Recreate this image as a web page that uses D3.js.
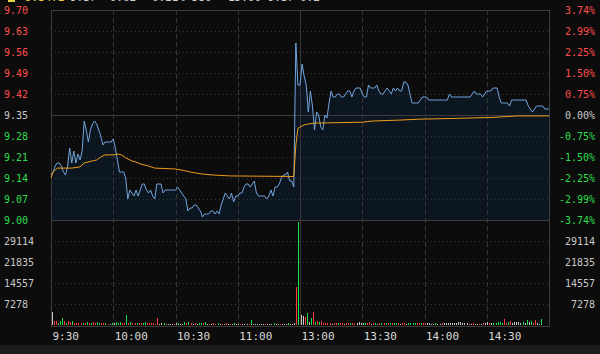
<!DOCTYPE html>
<html>
<head>
<meta charset="utf-8">
<script src="https://cdn.jsdelivr.net/npm/d3@7"></script>
<style>
body { margin: 0; background: #0c0c0c; }
svg { display: block; }
text { font-family: "DejaVu Sans Mono", monospace; }
</style>
</head>
<body>
<div class="viz"></div>
<script>
// minute prices, 9:30 .. 11:30 then 13:00 .. 15:00
const prices = [
    9.15, 9.16, 9.18, 9.19, 9.19, 9.18, 9.16, 9.15, 9.18, 9.24,
    9.19, 9.23, 9.19, 9.22, 9.20, 9.23, 9.33, 9.30, 9.26, 9.30,
    9.32, 9.33, 9.32, 9.30, 9.28, 9.25, 9.26, 9.26, 9.26, 9.26,
    9.27, 9.24, 9.20, 9.16, 9.16, 9.16, 9.14, 9.07, 9.10, 9.09,
    9.08, 9.10, 9.08, 9.10, 9.12, 9.12, 9.10, 9.09, 9.10, 9.08,
    9.07, 9.12, 9.12, 9.12, 9.09, 9.10, 9.10, 9.10, 9.10, 9.10,
    9.10, 9.11, 9.10, 9.09, 9.08, 9.07, 9.03, 9.04, 9.04, 9.05,
    9.05, 9.04, 9.03, 9.01, 9.02, 9.02, 9.02, 9.03, 9.03, 9.02,
    9.03, 9.02, 9.05, 9.07, 9.09, 9.08, 9.07, 9.09, 9.06, 9.08,
    9.08, 9.09, 9.09, 9.11, 9.12, 9.12, 9.11, 9.12, 9.13, 9.09,
    9.08, 9.08, 9.08, 9.08, 9.07, 9.08, 9.10, 9.08, 9.11, 9.11,
    9.12, 9.14, 9.15, 9.15, 9.16, 9.13, 9.13, 9.11, 9.59, 9.45,
    9.45,
    9.52, 9.48, 9.45, 9.36, 9.43, 9.38, 9.30, 9.36, 9.35,
    9.31, 9.30, 9.35, 9.34, 9.39, 9.43, 9.41, 9.41, 9.42, 9.42,
    9.41, 9.41, 9.42, 9.43, 9.43, 9.41, 9.43, 9.44, 9.44, 9.44,
    9.42, 9.41, 9.41, 9.45, 9.44, 9.44, 9.44, 9.45, 9.43, 9.42,
    9.42, 9.43, 9.44, 9.43, 9.42, 9.44, 9.43, 9.44, 9.43, 9.43,
    9.46, 9.46, 9.45, 9.42, 9.39, 9.39, 9.39, 9.39, 9.40, 9.41,
    9.41, 9.41, 9.40, 9.40, 9.40, 9.40, 9.40, 9.40, 9.40, 9.40,
    9.40, 9.40, 9.42, 9.41, 9.41, 9.41, 9.41, 9.41, 9.41, 9.41,
    9.41, 9.41, 9.41, 9.42, 9.43, 9.42, 9.42, 9.42, 9.41, 9.42,
    9.43, 9.43, 9.43, 9.44, 9.44, 9.44, 9.41, 9.39, 9.39, 9.39,
    9.39, 9.38, 9.40, 9.40, 9.40, 9.40, 9.40, 9.40, 9.40, 9.40,
    9.38, 9.37, 9.36, 9.37, 9.38, 9.38, 9.38, 9.38, 9.37, 9.37,
    9.37
];

// average price line, read at these minutes
const avgMin = [0, 1, 3, 10, 14, 16, 20, 22, 24, 26, 30, 32, 34, 36, 39, 41, 43, 47, 50, 60,
    64, 67, 73, 78, 86, 117, 118, 119, 120, 122, 124, 127, 150, 155, 168, 177, 197, 213, 225, 240];
const avgVal = [9.140, 9.160, 9.173, 9.173, 9.177, 9.190, 9.197, 9.200, 9.210, 9.217, 9.217, 9.220, 9.217, 9.207, 9.197, 9.193, 9.187, 9.180, 9.173, 9.170,
    9.165, 9.160, 9.153, 9.150, 9.147, 9.145, 9.250, 9.305, 9.310, 9.317, 9.320, 9.323, 9.326, 9.330, 9.333, 9.336, 9.339, 9.342, 9.347, 9.347];

const volumes = [
    4510, 1390, 1390, 810, 1390, 2310, 1390, 810, 1390, 1040,
    1390, 580, 580, 810, 810, 580, 810, 1040, 810, 810,
    1040, 580, 1160, 810, 810, 580, 580, 350, 350, 810,
    580, 1040, 580, 1160, 580, 580, 3350, 810, 1040, 810,
    810, 580, 810, 810, 580, 1160, 580, 580, 580, 580,
    350, 2310, 350, 580, 580, 350, 350, 350, 350, 350,
    580, 580, 350, 350, 1040, 580, 920, 580, 350, 580,
    350, 580, 580, 580, 1160, 350, 350, 350, 580, 350,
    580, 350, 350, 350, 580, 350, 350, 350, 580, 350,
    350, 350, 350, 350, 350, 350, 1620, 350, 350, 350,
    350, 350, 350, 350, 350, 350, 350, 580, 350, 350,
    350, 350, 350, 350, 580, 350, 350, 580, 13000, 35700,
    3350, 3120, 2890, 4040, 1160, 2540, 4620, 1040, 1390, 1040,
    1390, 580, 580, 580, 580, 350, 580, 580, 580, 580,
    580, 350, 580, 580, 580, 810, 580, 810, 1160, 810,
    580, 580, 580, 1160, 350, 580, 580, 350, 580, 810,
    580, 580, 580, 580, 580, 580, 580, 580, 350, 810,
    810, 350, 810, 810, 810, 810, 580, 580, 580, 580,
    810, 810, 580, 350, 350, 580, 350, 350, 580, 580,
    580, 580, 580, 580, 810, 810, 920, 920, 810, 580,
    580, 350, 350, 580, 350, 350, 350, 350, 580, 810,
    1040, 580, 810, 810, 580, 1040, 1040, 810, 1960, 810,
    1040, 1390, 810, 1040, 1040, 1040, 810, 1040, 810, 1620,
    1040, 1390, 810, 1730, 580, 350, 1960, 0, 0, 0,
    0
];
// 1 up tick, -1 down tick, 0 unchanged
const volDir = [
    0, 1, 1, -1, -1, -1, 1, -1, 1, 1,
    -1, 1, 1, 1, 1, -1, 1, -1, 1, -1,
    1, 1, -1, -1, 1, 1, -1, 1, 0, -1,
    0, -1, -1, -1, 1, 1, -1, 1, -1, 1,
    1, -1, 1, 1, -1, -1, 1, 1, 1, 1,
    1, 1, 0, 0, -1, 0, 0, 0, 0, 1,
    0, -1, 0, 0, -1, 1, -1, 1, 0, 1,
    0, -1, -1, 1, -1, 0, 1, 0, 1, 1,
    -1, 0, 1, 0, 1, 0, 1, 0, -1, 0,
    0, 1, 0, 0, 0, 1, -1, 0, 0, 0,
    0, 0, 0, 1, 0, 0, 0, -1, 0, 0,
    1, 0, 0, 0, -1, 0, 0, 0, 1, -1,
    0, 0, 1, -1, 0, -1, 1, -1, 1, -1,
    1, 1, 1, 1, 1, 0, 1, 1, -1, 1,
    1, 0, 1, 1, -1, 1, 1, 0, 0, 0,
    -1, -1, 1, 1, 0, 1, -1, 0, 1, -1,
    1, -1, 1, -1, 1, -1, -1, 1, 0, 1,
    1, 0, -1, -1, -1, -1, 1, 1, -1, 1,
    1, 0, 0, 0, 0, -1, 0, 0, 1, 0,
    0, 0, 0, 0, 0, 0, 0, 0, 0, 0,
    0, 1, 0, 1, 0, 0, 1, 0, 1, 0,
    0, 1, 0, -1, -1, -1, -1, -1, 1, 1,
    -1, 1, 0, 0, 0, 0, 0, -1, 0, -1,
    0, -1, 1, 1, 0, 0, -1, 0, 0, 0,
    0
];

const prevClose = 9.35;
const priceTicks = [9.00, 9.07, 9.14, 9.21, 9.28, 9.35, 9.42, 9.49, 9.56, 9.63, 9.70];
const pctTicks = ['-3.74%', '-2.99%', '-2.25%', '-1.50%', '-0.75%', '0.00%', '0.75%', '1.50%', '2.25%', '2.99%', '3.74%'];
const volTicks = [7278, 14557, 21835, 29114];
const volMax = 36392;
const timeTicks = [0, 30, 60, 90, 120, 150, 180, 210];
const timeLabels = ['9:30', '10:00', '10:30', '11:00', '13:00', '13:30', '14:00', '14:30'];

const W = 600, H = 354;
const pL = 51, pR = 549, pT = 10, pM = 220, pB = 325;
const RED = '#ff4d4d', GREEN = '#2ddc4f', GREY = '#c8c8c8';

const svg = d3.select('.viz').append('svg')
    .attr('width', W)
    .attr('height', H);

svg.append('rect').attr('width', W).attr('height', H).attr('fill', '#0c0c0c');
svg.append('rect').attr('x', 0).attr('y', 345).attr('width', W).attr('height', 9).attr('fill', '#1c1c1c');

const x = d3.scaleLinear().domain([0, 240]).range([pL, pR]);
const y = d3.scaleLinear().domain([9.00, 9.70]).range([pM, pT]);
const yv = d3.scaleLinear().domain([0, volMax]).range([pB, pM]);

// header (cut off at the top edge, as in the terminal screenshot)
const head = svg.append('g').attr('font-size', 11);
head.append('rect').attr('x', 8).attr('y', -4).attr('width', 7).attr('height', 6).attr('fill', '#e8d040');
head.append('text').attr('x', 25).attr('y', 1).attr('fill', '#e8d040').text('9.3472');
head.append('text').attr('x', 70).attr('y', 1).attr('fill', '#d0d0d0').text('9.37 +0.02');
head.append('text').attr('x', 152).attr('y', 1).attr('fill', '#d0d0d0').text('0.21% 580');
head.append('text').attr('x', 228).attr('y', 1).attr('fill', '#d0d0d0').text('15:00 9.37');
head.append('text').attr('x', 300).attr('y', 1).attr('fill', '#d0d0d0').text('0.2');

// price area under the line
const area = d3.area()
    .x((d, i) => x(i))
    .y0(pM)
    .y1(d => y(d));
svg.append('path').datum(prices)
    .attr('d', area)
    .attr('fill', '#0c1621');

// grid
const grid = svg.append('g').attr('stroke', '#363636').attr('fill', 'none');
priceTicks.filter(p => p !== prevClose && p !== 9.00 && p !== 9.70).forEach(p => {
    grid.append('line').attr('x1', pL).attr('x2', pR)
        .attr('y1', Math.round(y(p)) + 0.5).attr('y2', Math.round(y(p)) + 0.5)
        .attr('stroke-dasharray', '1,3');
});
volTicks.forEach(v => {
    grid.append('line').attr('x1', pL).attr('x2', pR)
        .attr('y1', Math.round(yv(v)) + 0.5).attr('y2', Math.round(yv(v)) + 0.5)
        .attr('stroke-dasharray', '1,3');
});
timeTicks.slice(1).forEach(t => {
    grid.append('line')
        .attr('x1', Math.round(x(t)) + 0.5).attr('x2', Math.round(x(t)) + 0.5)
        .attr('y1', pT).attr('y2', pB)
        .attr('stroke-dasharray', t === 120 ? null : '5,3');
});
grid.append('line').attr('x1', pL).attr('x2', pR)
    .attr('y1', Math.round(y(prevClose)) + 0.5).attr('y2', Math.round(y(prevClose)) + 0.5)
    .attr('stroke', '#3c3c3c');
grid.append('line').attr('x1', pL).attr('x2', pR)
    .attr('y1', pM + 0.5).attr('y2', pM + 0.5).attr('stroke', '#3c3c3c');
grid.append('rect').attr('x', pL + 0.5).attr('y', pT + 0.5)
    .attr('width', pR - pL).attr('height', pB + 1 - pT).attr('stroke', '#3c3c3c');

// price line and average line
const line = d3.line()
    .x((d, i) => x(i))
    .y(d => y(d));
svg.append('path').datum(prices)
    .attr('d', line)
    .attr('fill', 'none')
    .attr('stroke', '#72a4dc')
    .attr('stroke-width', 1);

const avgLine = d3.line()
    .x(d => x(d[0]))
    .y(d => y(d[1]));
svg.append('path').datum(avgMin.map((m, i) => [m, avgVal[i]]))
    .attr('d', avgLine)
    .attr('fill', 'none')
    .attr('stroke', '#ee9c1c')
    .attr('stroke-width', 1);

// volume bars
svg.append('g').selectAll('rect')
    .data(volumes)
    .enter()
    .append('rect')
    .attr('x', (d, i) => Math.floor(x(i)) + 1)
    .attr('y', d => yv(d))
    .attr('width', 1)
    .attr('height', d => pB - yv(d))
    .attr('shape-rendering', 'crispEdges')
    .attr('fill', (d, i) => volDir[i] > 0 ? '#ff3b3b' : volDir[i] < 0 ? '#1ee04a' : '#c8c8c8');

// axes
const colorOf = p => p > prevClose ? RED : p < prevClose ? GREEN : GREY;

const leftAxis = svg.append('g')
    .attr('transform', 'translate(4,0)')
    .call(d3.axisRight(y).tickValues(priceTicks).tickFormat(d3.format('.2f')).tickSize(0).tickPadding(0));
leftAxis.selectAll('text').attr('fill', d => colorOf(d));

const rightAxis = svg.append('g')
    .attr('transform', 'translate(595,0)')
    .call(d3.axisLeft(y).tickValues(priceTicks).tickFormat((d, i) => pctTicks[i]).tickSize(0).tickPadding(0));
rightAxis.selectAll('text').attr('fill', d => colorOf(d));

const volLeft = svg.append('g')
    .attr('transform', 'translate(4,0)')
    .call(d3.axisRight(yv).tickValues(volTicks).tickFormat(d3.format('d')).tickSize(0).tickPadding(0));
volLeft.selectAll('text').attr('fill', GREY);

const volRight = svg.append('g')
    .attr('transform', 'translate(595,0)')
    .call(d3.axisLeft(yv).tickValues(volTicks).tickFormat(d3.format('d')).tickSize(0).tickPadding(0));
volRight.selectAll('text').attr('fill', GREY);

const timeAxis = svg.append('g')
    .attr('transform', 'translate(1,' + (pB + 7) + ')')
    .call(d3.axisBottom(x).tickValues(timeTicks).tickFormat((d, i) => timeLabels[i]).tickSize(0).tickPadding(0));
timeAxis.selectAll('text')
    .attr('text-anchor', 'start')
    .attr('font-size', 11)
    .attr('fill', '#d8d8d8');

svg.selectAll('.domain').remove();
[leftAxis, rightAxis, volLeft, volRight].forEach(g => g.selectAll('text')
    .attr('font-size', 10)
    .attr('font-family', '"DejaVu Sans Mono", monospace'));
timeAxis.selectAll('text').attr('font-family', '"DejaVu Sans Mono", monospace');
</script>
</body>
</html>
